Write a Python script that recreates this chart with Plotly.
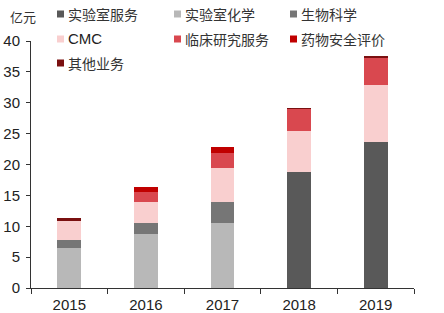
import plotly.graph_objects as go

years = ["2015", "2016", "2017", "2018", "2019"]
series_names = ["实验室服务", "实验室化学", "生物科学", "CMC", "临床研究服务", "药物安全评价", "其他业务"]
lab_services = [0, 0, 0, 18.8, 23.7]
lab_chem = [6.5, 8.7, 10.5, 0, 0]
bio_science = [1.3, 1.9, 3.4, 0, 0]
cmc = [3.1, 3.4, 5.6, 6.6, 9.1]
clinical = [0, 1.5, 2.3, 3.6, 4.6]
safety = [0, 0.8, 1.1, 0, 0]
other = [0.4, 0, 0, 0.15, 0.2]
colors = ["#595959", "#B8B8B8", "#767676", "#F9CFCF", "#D9484F", "#C00000", "#7A1010"]
y_ticks = [0, 5, 10, 15, 20, 25, 30, 35, 40]

values = [lab_services, lab_chem, bio_science, cmc, clinical, safety, other]

fig = go.Figure()
for name, vals, col in zip(series_names, values, colors):
    fig.add_trace(go.Bar(x=years, y=vals, name=name, marker_color=col,
                         marker_line_width=0, showlegend=False))

fig.update_layout(
    width=444, height=313,
    margin=dict(l=31, r=30, t=41, b=25),
    barmode="stack", bargap=0.69,
    plot_bgcolor="white", paper_bgcolor="white",
    font=dict(family="Liberation Sans, Arial", size=15, color="#222"),
    xaxis=dict(showline=True, linecolor="#333", linewidth=1, ticks="outside",
               tickson="boundaries", ticklen=5, tickcolor="#333",
               showgrid=False, tickfont=dict(size=15), automargin=False,
               ticklabelstandoff=3),
    yaxis=dict(range=[0, 40], tickvals=y_ticks, showline=True, linecolor="#333",
               linewidth=1, ticks="outside", ticklen=4, tickcolor="#333",
               showgrid=False, zeroline=False, tickfont=dict(size=15),
               automargin=False, ticklabelstandoff=3),
)

# legend built as annotations (3 columns)
col_x = [57, 174, 290]
row_y = [14, 39, 63]
for i, (name, col) in enumerate(zip(series_names, colors)):
    r, c = divmod(i, 3)
    x = col_x[c]
    y = row_y[r]
    fig.add_shape(type="rect", xref="paper", yref="paper",
                  x0=(x - 31) / 383, x1=(x + 7 - 31) / 383,
                  y0=(288 - (y + 3.5)) / 247, y1=(288 - (y - 3.5)) / 247,
                  fillcolor=col, line_width=0)
    fnt = dict(family="Liberation Sans, Arial", size=15, color="#222") if name == "CMC" else \
        dict(family="Noto Sans CJK SC", size=14, color="#333")
    fig.add_annotation(xref="paper", yref="paper",
                       x=(x + 9 - 31) / 383, y=(288 - y) / 247,
                       text=name, showarrow=False, xanchor="left", yanchor="middle",
                       font=fnt)

fig.add_annotation(xref="paper", yref="paper", x=(8 - 31) / 383, y=(288 - 17) / 247,
                   text="亿元", showarrow=False, xanchor="left", yanchor="middle",
                   font=dict(family="Noto Sans CJK SC", size=13, color="#333"))

fig.write_html("out.html")
